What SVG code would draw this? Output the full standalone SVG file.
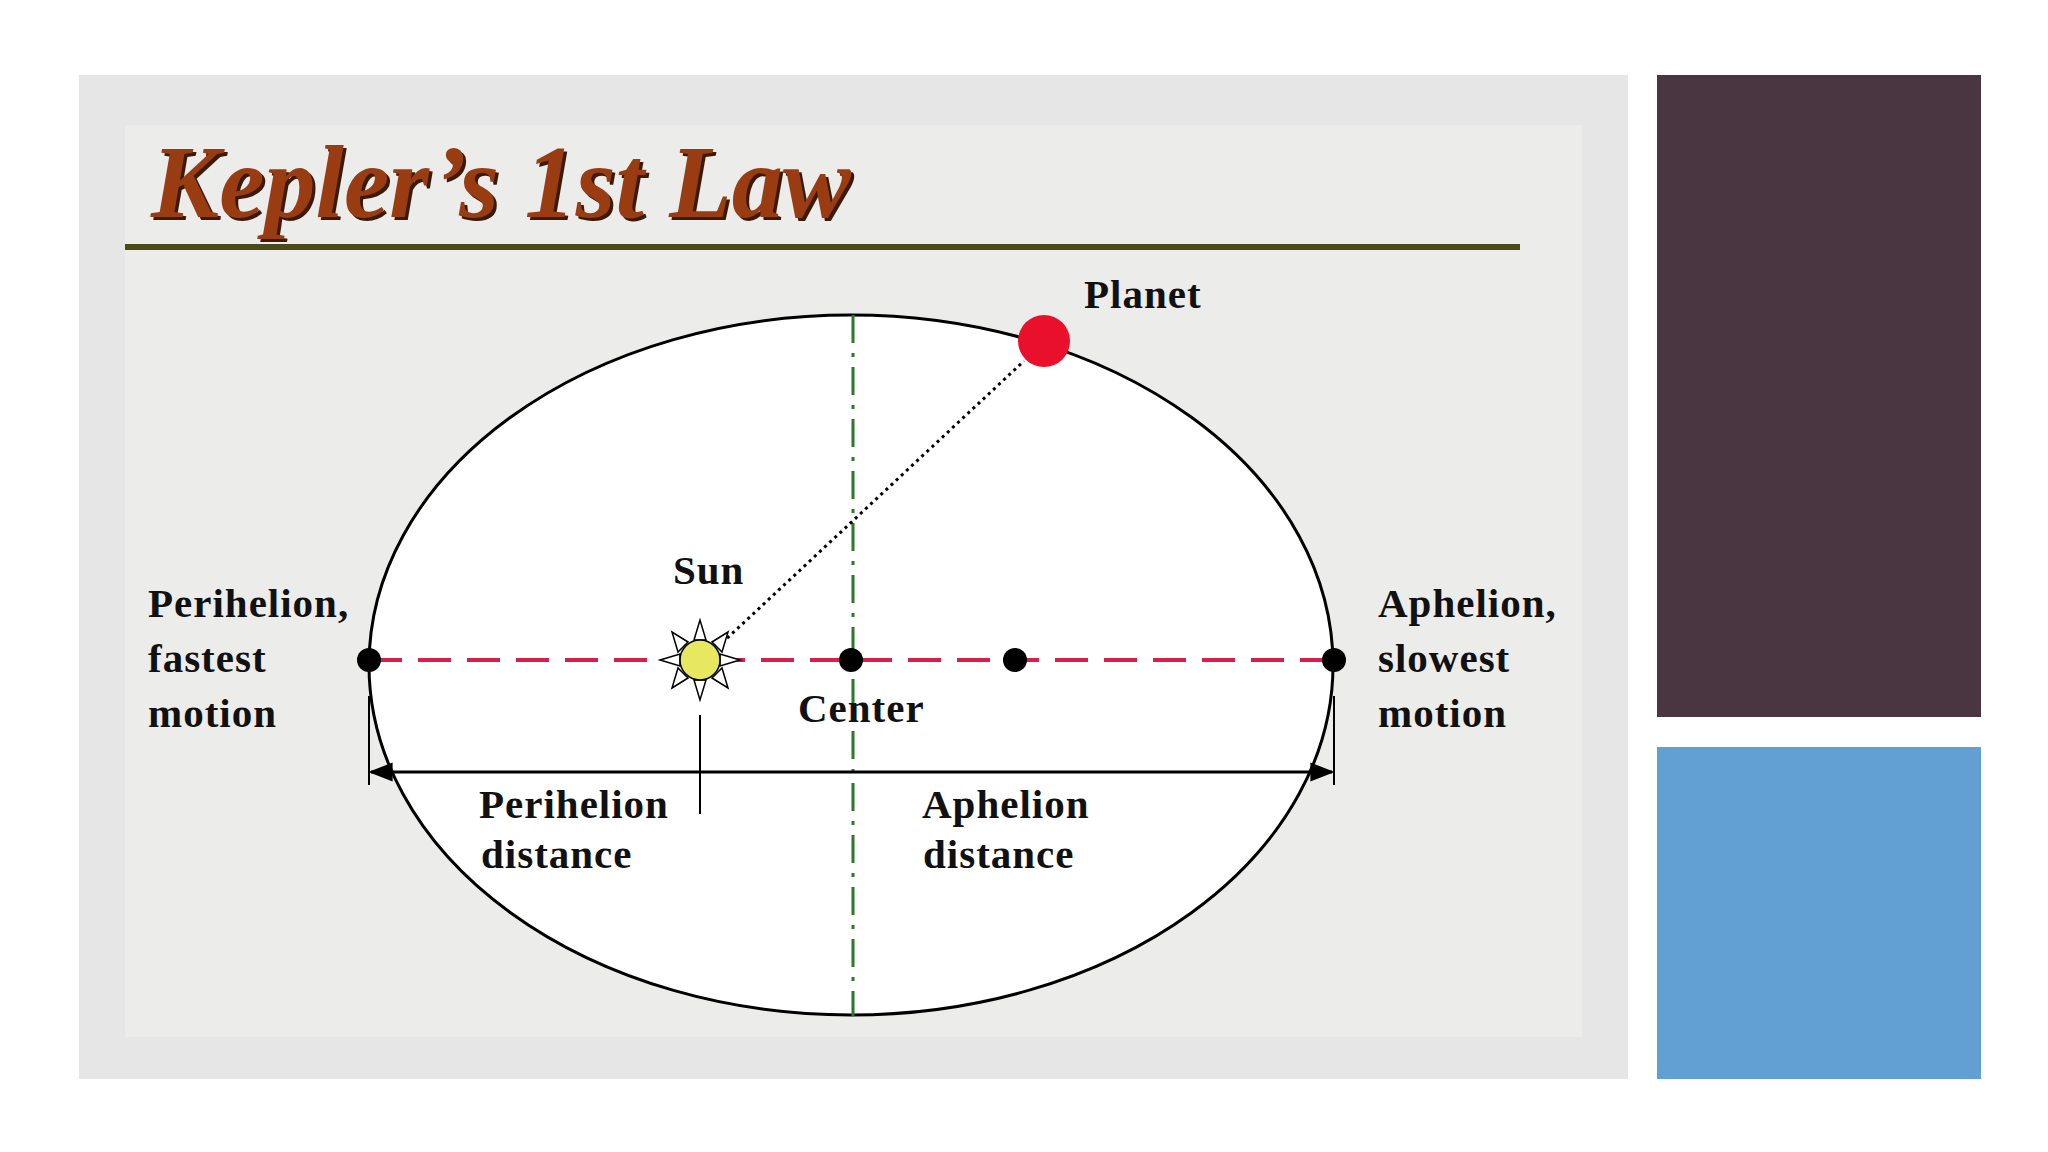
<svg xmlns="http://www.w3.org/2000/svg" width="2048" height="1152" viewBox="0 0 2048 1152">
<defs>
<style>
.t{font-family:"Liberation Serif",serif;font-weight:bold;font-size:41px;fill:#111;letter-spacing:1px}
.dot{fill:#000}
</style>
<marker id="ar" viewBox="0 0 10 10" refX="9" refY="5" markerWidth="8" markerHeight="8" orient="auto-start-reverse"><path d="M0,1 L10,5 L0,9 z" fill="#000"/></marker>
</defs>
<rect width="2048" height="1152" fill="#fff"/>
<rect x="79" y="75" width="1549" height="1004" fill="#e6e6e6"/>
<rect x="125" y="125" width="1457" height="912" fill="#ececeb"/>
<rect x="1657" y="75" width="324" height="642" fill="#4a3640"/>
<rect x="1657" y="747" width="324" height="332" fill="#62a0d3"/>
<g id="title">
<text x="154" y="220" font-family="Liberation Serif,serif" font-weight="bold" font-style="italic" font-size="104" fill="#3a1a08" textLength="700" lengthAdjust="spacingAndGlyphs">Kepler’s 1st Law</text>
<text x="151" y="217" font-family="Liberation Serif,serif" font-weight="bold" font-style="italic" font-size="104" fill="#9a3c12" textLength="700" lengthAdjust="spacingAndGlyphs">Kepler’s 1st Law</text>
<rect x="125" y="244" width="1395" height="6" fill="#4a4a1a"/>
</g>
<g id="orbit">
<ellipse cx="851" cy="665" rx="482" ry="350" fill="#fff" stroke="#000" stroke-width="3"/>
</g>
<g id="connectors">
<line x1="853" y1="315" x2="853" y2="1016" stroke="#2a7a2a" stroke-width="3" stroke-dasharray="28,10,4,10"/>
<line x1="369" y1="660" x2="1334" y2="660" stroke="#d6204a" stroke-width="4" stroke-dasharray="33,16"/>
<line x1="722" y1="643" x2="1024" y2="361" stroke="#000" stroke-width="3" stroke-dasharray="3,4"/>
<line x1="700" y1="715" x2="700" y2="814" stroke="#000" stroke-width="2"/>
<line x1="369" y1="696" x2="369" y2="785" stroke="#000" stroke-width="2"/>
<line x1="1334" y1="696" x2="1334" y2="785" stroke="#000" stroke-width="2"/>
<line x1="371" y1="772" x2="1332" y2="772" stroke="#000" stroke-width="3" marker-start="url(#ar)" marker-end="url(#ar)"/>
</g>
<g id="points">
<circle class="dot" cx="369" cy="660" r="12"/>
<circle class="dot" cx="851" cy="660" r="12"/>
<circle class="dot" cx="1015" cy="660" r="12"/>
<circle class="dot" cx="1334" cy="660" r="12"/>
</g>
<g id="sun">
<g fill="#fff" stroke="#000" stroke-width="1.5">
<path d="M700,620 L694,640 L706,640 z"/>
<path d="M700,700 L694,680 L706,680 z"/>
<path d="M660,660 L680,654 L680,666 z"/>
<path d="M740,660 L720,654 L720,666 z"/>
<path d="M672,632 L678,652 L688,642 z"/>
<path d="M728,632 L712,642 L722,652 z"/>
<path d="M672,688 L688,678 L678,668 z"/>
<path d="M728,688 L722,668 L712,678 z"/>
</g>
<circle cx="700" cy="660" r="20" fill="#e8e860" stroke="#000" stroke-width="1.5"/>
</g>
<g id="planet"><circle cx="1044" cy="341" r="26" fill="#e8102a"/></g>
<g id="labels">
<text class="t" x="1084" y="308">Planet</text>
<text class="t" x="673" y="584">Sun</text>
<text class="t" x="148" y="617">Perihelion,</text>
<text class="t" x="148" y="672">fastest</text>
<text class="t" x="148" y="727">motion</text>
<text class="t" x="1378" y="617">Aphelion,</text>
<text class="t" x="1378" y="672">slowest</text>
<text class="t" x="1378" y="727">motion</text>
<text class="t" x="798" y="722">Center</text>
<text class="t" x="479" y="818">Perihelion</text>
<text class="t" x="481" y="868">distance</text>
<text class="t" x="922" y="818">Aphelion</text>
<text class="t" x="923" y="868">distance</text>
</g>
</svg>
